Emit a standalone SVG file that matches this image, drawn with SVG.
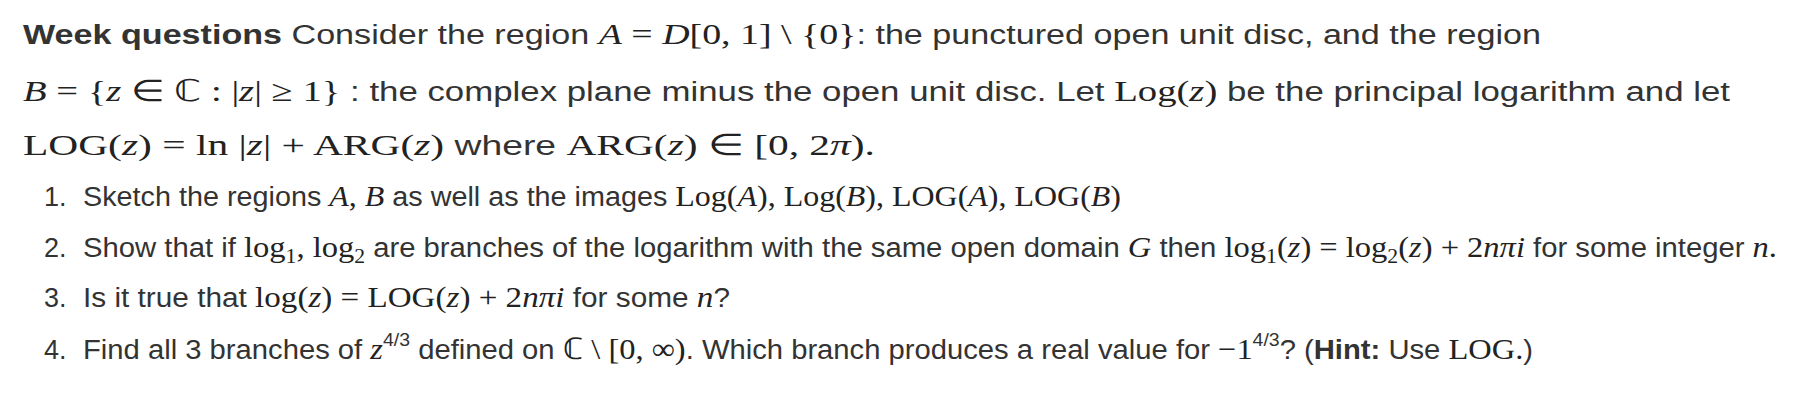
<svg xmlns="http://www.w3.org/2000/svg" width="1806" height="418" viewBox="0 0 1806 418">
<style>
text{font-family:"Liberation Sans",Arial,sans-serif;font-size:27px;fill:#333}
.m{font-family:"Liberation Serif","Times New Roman",serif;font-size:30px;fill:#222}
.i{font-style:italic}
.b{font-weight:bold}
.s{font-size:20px}
.ss{font-size:18px}
</style>
<rect width="1806" height="418" fill="#fff"/>
<g id="intro">
<text x="23" y="44" textLength="1518" lengthAdjust="spacingAndGlyphs"><tspan class="b">Week questions</tspan> Consider the region <tspan class="m i">A</tspan><tspan class="m"> = </tspan><tspan class="m i">D</tspan><tspan class="m">[0, 1] \ {0}</tspan>: the punctured open unit disc, and the region</text>
<text x="23" y="101" textLength="1707" lengthAdjust="spacingAndGlyphs"><tspan class="m i">B</tspan><tspan class="m"> = {</tspan><tspan class="m i">z</tspan><tspan class="m"> ∈ ℂ : |</tspan><tspan class="m i">z</tspan><tspan class="m">| ≥ 1}</tspan> : the complex plane minus the open unit disc. Let <tspan class="m" font-size="34">Log(</tspan><tspan class="m i" font-size="34">z</tspan><tspan class="m" font-size="34">)</tspan> be the principal logarithm and let</text>
<text x="23" y="155" textLength="852" lengthAdjust="spacingAndGlyphs"><tspan class="m" font-size="34">LOG(</tspan><tspan class="m i" font-size="34">z</tspan><tspan class="m" font-size="34">) = ln |</tspan><tspan class="m i" font-size="34">z</tspan><tspan class="m" font-size="34">| + ARG(</tspan><tspan class="m i" font-size="34">z</tspan><tspan class="m" font-size="34">)</tspan> where <tspan class="m" font-size="34">ARG(</tspan><tspan class="m i" font-size="34">z</tspan><tspan class="m" font-size="34">) ∈ [0, 2</tspan><tspan class="m i" font-size="34">π</tspan><tspan class="m" font-size="34">).</tspan></text>
</g>
<g id="item1">
<text x="44" y="206">1.</text>
<text x="83" y="206" textLength="1038" lengthAdjust="spacingAndGlyphs">Sketch the regions <tspan class="m i">A</tspan><tspan class="m">, </tspan><tspan class="m i">B</tspan> as well as the images <tspan class="m">Log(</tspan><tspan class="m i">A</tspan><tspan class="m">), Log(</tspan><tspan class="m i">B</tspan><tspan class="m">), LOG(</tspan><tspan class="m i">A</tspan><tspan class="m">), LOG(</tspan><tspan class="m i">B</tspan><tspan class="m">)</tspan></text>
</g>
<g id="item2">
<text x="44" y="257">2.</text>
<text x="83" y="257" textLength="1694" lengthAdjust="spacingAndGlyphs">Show that if <tspan class="m">log</tspan><tspan class="m s" dy="6">1</tspan><tspan class="m" dy="-6">, log</tspan><tspan class="m s" dy="6">2</tspan><tspan dy="-6"> are branches of the logarithm with the same open domain </tspan><tspan class="m i">G</tspan> then <tspan class="m">log</tspan><tspan class="m s" dy="6">1</tspan><tspan class="m" dy="-6">(</tspan><tspan class="m i">z</tspan><tspan class="m">) = log</tspan><tspan class="m s" dy="6">2</tspan><tspan class="m" dy="-6">(</tspan><tspan class="m i">z</tspan><tspan class="m">) + 2</tspan><tspan class="m i">nπi</tspan> for some integer <tspan class="m i">n</tspan><tspan class="m">.</tspan></text>
</g>
<g id="item3">
<text x="44" y="307">3.</text>
<text x="83" y="307" textLength="647" lengthAdjust="spacingAndGlyphs">Is it true that <tspan class="m">log(</tspan><tspan class="m i">z</tspan><tspan class="m">) = LOG(</tspan><tspan class="m i">z</tspan><tspan class="m">) + 2</tspan><tspan class="m i">nπi</tspan> for some <tspan class="m i">n</tspan>?</text>
</g>
<g id="item4">
<text x="44" y="359">4.</text>
<text x="83" y="359" textLength="1450" lengthAdjust="spacingAndGlyphs">Find all 3 branches of <tspan class="m i">z</tspan><tspan class="ss" dy="-13">4/3</tspan><tspan dy="13"> defined on </tspan><tspan class="m">ℂ \ [0, ∞)</tspan>. Which branch produces a real value for <tspan class="m">−1</tspan><tspan class="ss" dy="-13">4/3</tspan><tspan dy="13">? (</tspan><tspan class="b">Hint:</tspan> Use <tspan class="m">LOG.</tspan>)</text>
</g>
</svg>
